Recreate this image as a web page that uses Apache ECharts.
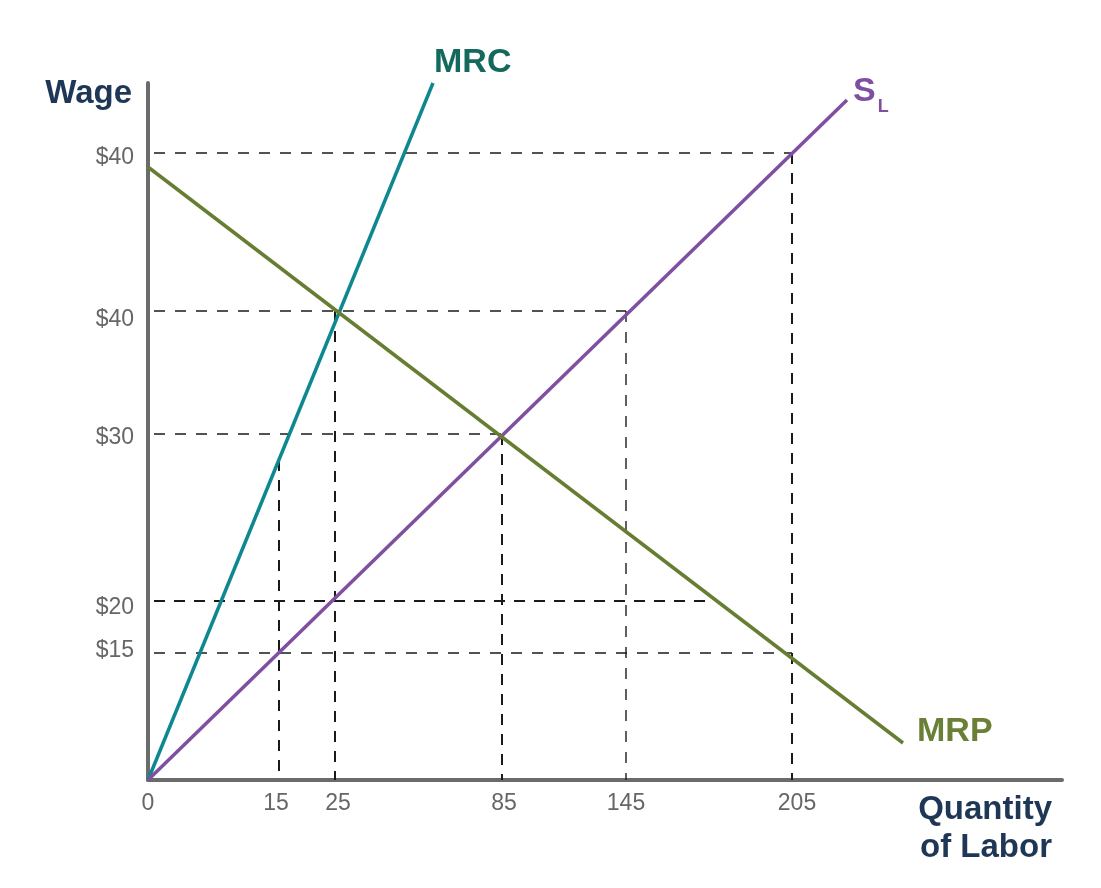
<!DOCTYPE html>
<html>
<head>
<meta charset="utf-8">
<script src="https://cdn.jsdelivr.net/npm/echarts@6/dist/echarts.min.js"></script>
<style>
  html, body { margin: 0; padding: 0; background: #fff; }
  #chart { width: 1101px; height: 888px; }
</style>
</head>
<body>
<div id="chart"></div>
<script>
// schematic diagram: axis units are positions along the drawn axes
const xMax = 914;
const yMax = 697;

// where the tick labels sit (the sketch is not to scale)
const xLabelPos = [0, 128, 190, 356, 478, 649];
const xLabelText = ['0', '15', '25', '85', '145', '205'];
const yLabelPos = [622, 460, 342, 172, 129];
const yLabelText = ['$40', '$40', '$30', '$20', '$15'];

const mrcLine = [[0, 0], [285, 697]];
const slLine = [[0, 0], [699, 680]];
const mrpLine = [[0, 613], [755, 37]];

// dashed guide segments
const guidesThin = [
  [[6, 627], [644, 627]],
  [[6, 469], [478, 469]],
  [[478, 469], [478, 0]],
  [[6, 346], [354, 346]],
  [[6, 127], [644, 127]],
];
const guidesThick = [
  [[644, 627], [644, 0]],
  [[187, 469], [187, 0]],
  [[354, 346], [354, 0]],
  [[131, 320], [131, 0]],
  [[6, 179], [565, 179]],
];

const FONT = '"Liberation Sans", Arial, sans-serif';
const chart = echarts.init(document.getElementById('chart'));

function guide(seg, width, color, dash) {
  return {
    type: 'line',
    data: seg,
    symbol: 'none',
    silent: true,
    z: 1,
    lineStyle: { color: color, width: width, type: dash },
  };
}

function curve(data, color, label) {
  return {
    type: 'line',
    data: data,
    symbol: 'none',
    silent: true,
    z: 5,
    lineStyle: { color: color, width: 3.5, cap: 'butt' },
    endLabel: label,
  };
}

const series = [].concat(
  guidesThin.map(s => guide(s, 1.4, '#1a1a1a', [11, 10])),
  guidesThick.map(s => guide(s, 2, '#1a1a1a', [11, 9])),
  [
    curve(mrcLine, '#0e8791', {
      show: true, formatter: 'MRC', distance: 0, offset: [1, -20],
      align: 'left', verticalAlign: 'middle',
      color: '#13695b', fontSize: 34, fontWeight: 'bold', fontFamily: FONT,
    }),
    curve(slLine, '#7f4fa1', {
      show: true, formatter: '{s|S}{sub|L}', distance: 0, offset: [6, -8],
      align: 'left', verticalAlign: 'middle',
      rich: {
        s: { color: '#7f4fa1', fontSize: 34, fontWeight: 'bold', fontFamily: FONT },
        sub: { color: '#7f4fa1', fontSize: 18, fontWeight: 'bold', fontFamily: FONT, padding: [30, 0, 0, 2] },
      },
    }),
    curve(mrpLine, '#677d31', {
      show: true, formatter: 'MRP', distance: 0, offset: [14, -11],
      align: 'left', verticalAlign: 'middle',
      color: '#6a8036', fontSize: 34, fontWeight: 'bold', fontFamily: FONT,
    }),
  ]
);

chart.setOption({
  animation: false,
  backgroundColor: '#fff',
  grid: { left: 148, right: 39, top: 83, bottom: 108 },
  xAxis: {
    type: 'value',
    min: 0,
    max: xMax,
    name: 'Quantity\nof Labor',
    nameLocation: 'end',
    nameGap: -10,
    nameTextStyle: {
      color: '#1f3756', fontSize: 33, fontWeight: 'bold', fontFamily: FONT,
      align: 'right', verticalAlign: 'top', lineHeight: 38, padding: [11, 0, 0, 0],
    },
    axisLine: { show: true, lineStyle: { color: '#6b6b6b', width: 4, cap: 'round' } },
    axisTick: { show: false },
    splitLine: { show: false },
    axisLabel: {
      customValues: xLabelPos,
      formatter: v => xLabelText[xLabelPos.indexOf(v)],
      margin: 12,
      color: '#666', fontSize: 23, fontFamily: FONT,
    },
  },
  yAxis: {
    type: 'value',
    min: 0,
    max: yMax,
    name: 'Wage',
    nameLocation: 'end',
    nameGap: -11,
    nameTextStyle: {
      color: '#1f3756', fontSize: 33, fontWeight: 'bold', fontFamily: FONT,
      align: 'right', verticalAlign: 'middle', padding: [0, 16, 0, 0],
    },
    axisLine: { show: true, lineStyle: { color: '#6b6b6b', width: 4, cap: 'round' } },
    axisTick: { show: false },
    splitLine: { show: false },
    axisLabel: {
      customValues: yLabelPos,
      formatter: v => yLabelText[yLabelPos.indexOf(v)],
      margin: 14,
      color: '#666', fontSize: 23, fontFamily: FONT,
    },
  },
  series: series,
});
</script>
</body>
</html>
